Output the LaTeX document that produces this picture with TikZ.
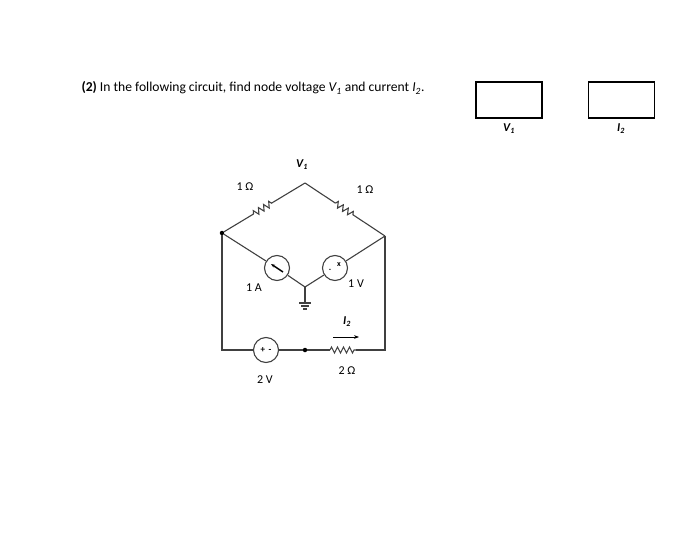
\documentclass[tikz,border=0pt]{standalone}
\usepackage{fontspec}
\setmainfont{Carlito}
\usetikzlibrary{decorations.pathmorphing,arrows.meta,calc}
\begin{document}
\begin{tikzpicture}[x=1pt,y=-1pt,
  wire/.style={line width=1.1pt,draw=black!75},
  res/.style={wire,decorate,decoration={zigzag,segment length=6pt,amplitude=3pt}},
  src/.style={circle,draw=black!75,line width=1.1pt,minimum size=25pt,inner sep=0pt},
  dot/.style={circle,fill=black,inner sep=0pt,minimum size=4.5pt},
  lbl/.style={font=\fontsize{12}{14}\selectfont},
  ansbox/.style={draw,line width=1.2pt,minimum width=66pt,minimum height=36pt,inner sep=0pt}]
\useasboundingbox (0,0) rectangle (700,556);
\node[anchor=west,font=\fontsize{13.6}{16}\selectfont] (title) at (78,88) {\textbf{(2)} In the following circuit, find node voltage \textit{V\textsubscript{1}} and current \textit{I\textsubscript{2}}.};
\node[ansbox] (b1) at (509,100) {};
\node[ansbox] (b2) at (621.5,100) {};
\node[lbl] (lb1) at (509,129) {\textbf{\textit{V\textsubscript{1}}}};
\node[lbl] (lb2) at (621,129) {\textbf{\textit{I\textsubscript{2}}}};
% nodes
\coordinate (T) at (305,183);
\node[dot] (L) at (222,233) {};
\coordinate (R) at (385,236);
\coordinate (G) at (305,287);
\coordinate (BL) at (222,350);
\coordinate (BR) at (385,350);
\node[dot] (BM) at (305,350) {};
\coordinate (l1) at ($(L)!0.38!(T)$);
\coordinate (l2) at ($(L)!0.62!(T)$);
\coordinate (r1) at ($(T)!0.38!(R)$);
\coordinate (r2) at ($(T)!0.62!(R)$);
\draw[wire] (L) -- (l1); \draw[res] (l1) -- (l2); \draw[wire] (l2) -- (T);
\draw[wire] (T) -- (r1); \draw[res] (r1) -- (r2); \draw[wire] (r2) -- (R);
\node[src] (A) at (277,268) {};
\node[src] (V) at (335,268) {};
\draw[wire] (L) -- (A); \draw[wire] (A) -- (G); \draw[wire] (G) -- (V); \draw[wire] (V) -- (R);
\draw[line width=1.4pt,-{Stealth[length=4pt]}] ($(A)+(6,4)$) -- ($(A)+(-6,-4)$);
\node[font=\fontsize{8}{8}\selectfont\bfseries] (vx) at ($(V)+(4,-3)$) {x};
\node[font=\fontsize{9}{9}\selectfont\bfseries] (vd) at ($(V)+(-5,2)$) {.};
% ground
\coordinate (Gb) at (305,303);
\draw[wire] (G) -- (Gb);
\draw[wire] ($(Gb)+(-6,0)$) -- ($(Gb)+(6,0)$);
\draw[wire] ($(Gb)+(-4,3)$) -- ($(Gb)+(4,3)$);
\draw[wire] ($(Gb)+(-2,6)$) -- ($(Gb)+(2,6)$);
% outer loop
\node[src] (S) at (266,350) {\fontsize{9}{9}\selectfont\bfseries + \,-};
\coordinate (z1) at (330,350);
\coordinate (z2) at (356,350);
\draw[wire] (L) -- (BL) -- (S);
\draw[wire] (S) -- (BM) -- (z1);
\draw[res] (z1) -- (z2);
\draw[wire] (z2) -- (BR) -- (R);
% labels
\node[lbl] (lv1) at (302,165) {\textbf{\textit{V\textsubscript{1}}}};
\node[lbl] (lr1) at (245,187) {1 Ω};
\node[lbl] (lr2) at (365,190) {1 Ω};
\node[lbl] (l1a) at (254,288) {1 A};
\node[lbl] (l1v) at (356,284) {1 V};
\node[lbl] (li2) at (347,322) {\textbf{\textit{I\textsubscript{2}}}};
\coordinate (ia) at (333,337); \coordinate (ib) at (359,337);
\draw[line width=1pt,-{Stealth[length=5pt]}] (ia) -- (ib);
\node[lbl] (l2v) at (265,380) {2 V};
\node[lbl] (l2r) at (347,371) {2 Ω};
\end{tikzpicture}
\end{document}
